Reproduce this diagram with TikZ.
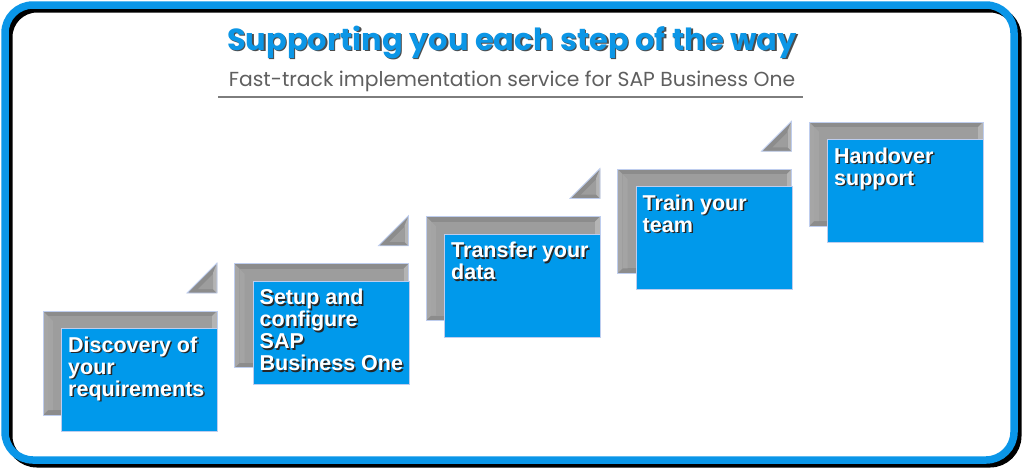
\documentclass[tikz,border=0pt]{standalone}
\usepackage{fontspec}
\setmainfont{Liberation Sans}
\newfontfamily\titlefont{Poppins}
\definecolor{frameblue}{RGB}{10,150,232}
\definecolor{titleblue}{RGB}{12,150,230}
\definecolor{boxblue}{RGB}{0,153,235}
\definecolor{subgray}{RGB}{95,95,95}
\definecolor{linegray}{RGB}{125,125,125}
\definecolor{edgelight}{RGB}{190,205,238}
\definecolor{gA}{RGB}{140,140,140}
\definecolor{gB}{RGB}{166,166,166}
\definecolor{gC}{RGB}{157,157,157}
\definecolor{gD}{RGB}{180,180,180}
\tikzset{
  stepbox/.style={draw=edgelight, line width=0.8pt, fill=boxblue, minimum width=156pt, minimum height=103pt, anchor=north west, inner sep=0pt},
  steptext/.style={font=\bfseries\fontsize{21.5}{22}\selectfont, text=white, anchor=base west, inner sep=0pt},
  stepshadow/.style={font=\bfseries\fontsize{21.5}{22}\selectfont, text=black!85, anchor=base west, inner sep=0pt},
  edge/.style={draw=edgelight, line width=0.8pt}
}
\newcommand\bevelstep[4]{%
  % #1 index, #2 gx, #3 gy, #4 lines
  \fill[gA] (#2,#3) rectangle (#2+174,#3+104);
  \fill[gB] (#2,#3) -- (#2+5,#3+5) -- (#2+5,#3+99) -- (#2,#3+104) -- cycle;
  \fill[gD] (#2+174,#3) -- (#2+174,#3+104) -- (#2+169,#3+99) -- (#2+169,#3+5) -- cycle;
  \fill[gC] (#2+5,#3+5) rectangle (#2+169,#3+99);
  \fill[gB!80!gC] (#2+5,#3+5) -- (#2+10,#3+10) -- (#2+10,#3+99) -- (#2+5,#3+99) -- cycle;
  \draw[edge] (#2,#3) rectangle (#2+174,#3+104);
  \node[stepbox] (box#1) at (#2+18,#3+17) {};
  \foreach \ln [count=\k] in {#4} {
    \node[stepshadow] (shadow#1-\k) at ([xshift=8.5pt,yshift={-25.5pt-22pt*(\k-1)}]box#1.north west) {\ln};
    \node[steptext] (text#1-\k) at ([xshift=7pt,yshift={-24pt-22pt*(\k-1)}]box#1.north west) {\ln};
  }
}
\newcommand\bevtri[3]{%
  % #1 index, #2 gx, #3 gy
  \fill[gA] (#2+144,#3-18) -- (#2+174,#3-18) -- (#2+174,#3-48) -- cycle;
  \fill[gD] (#2+174,#3-18) -- (#2+174,#3-48) -- (#2+170,#3-38) -- (#2+170,#3-22) -- cycle;
  \fill[gC] (#2+155,#3-22) -- (#2+170,#3-22) -- (#2+170,#3-37) -- cycle;
  \draw[edge] (#2+144,#3-18) -- (#2+174,#3-18) -- (#2+174,#3-48) -- cycle;
  \coordinate (tri#1) at (#2+174,#3-18);
}
\begin{document}
\begin{tikzpicture}[x=1pt,y=-1pt]
\useasboundingbox (0,0) rectangle (1024,472);
\fill[white] (0,0) rectangle (1024,472);
% frame
\draw[black, line width=7pt, rounded corners=28pt] (9,9) rectangle (1018,464);
\draw[frameblue, line width=7.5pt, rounded corners=28pt] (5,5) rectangle (1014,460);
% title
\node[font=\titlefont\bfseries\fontsize{30.5}{36}\selectfont, text=black!70, anchor=base] (titleshadow) at (513.5,51.5) {Supporting you each step of the way};
\node[font=\titlefont\bfseries\fontsize{30.5}{36}\selectfont, text=titleblue, anchor=base] (title) at (512,50) {Supporting you each step of the way};
\node[font=\titlefont\fontsize{20.3}{24}\selectfont, text=subgray, anchor=base] (subtitle) at (512,86) {Fast-track implementation service for SAP Business One};
\coordinate (ulA) at (218,97);
\coordinate (ulB) at (803,97);
\draw[linegray, line width=2.5pt] (ulA) -- (ulB);
% steps
\bevelstep{1}{43}{311}{{Discovery of},{your},{requirements}}
\bevelstep{2}{234.5}{263.75}{{Setup and},{configure},{SAP},{Business One}}
\bevelstep{3}{426}{216.5}{{Transfer your},{data}}
\bevelstep{4}{617.5}{169.25}{{Train your},{team}}
\bevelstep{5}{809}{122}{{Handover},{support}}
\bevtri{1}{43}{311}
\bevtri{2}{234.5}{263.75}
\bevtri{3}{426}{216.5}
\bevtri{4}{617.5}{169.25}
\end{tikzpicture}
\end{document}
